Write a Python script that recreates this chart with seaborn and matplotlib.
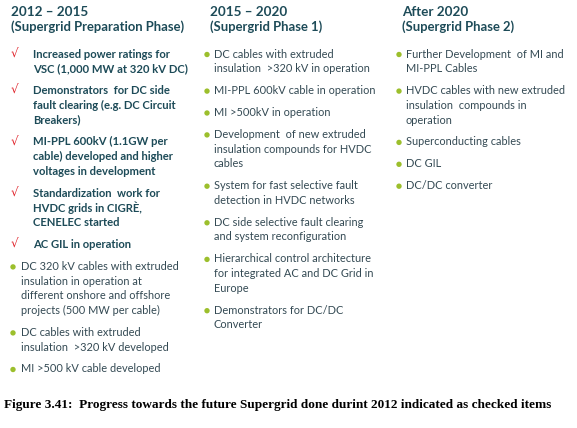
import matplotlib
matplotlib.use("Agg")
import matplotlib.pyplot as plt
import seaborn as sns
import pandas as pd

# ---------------- data ----------------
col_titles = ["2012 \u2013 2015", "2015 \u2013 2020", "After 2020"]
col_subtitles = ["(Supergrid Preparation Phase)", "(Supergrid Phase 1)", "(Supergrid Phase 2)"]

col1_items = [
    ["Increased power ratings for", "VSC (1,000 MW at 320 kV DC)"],
    ["Demonstrators  for DC side", "fault clearing (e.g. DC Circuit", "Breakers)"],
    ["MI-PPL 600kV (1.1GW per", "cable) developed and higher", "voltages in development"],
    ["Standardization  work for", "HVDC grids in CIGR\u00c8,", "CENELEC started"],
    ["AC GIL in operation"],
    ["DC 320 kV cables with extruded", "insulation in operation at", "different onshore and offshore", "projects (500 MW per cable)"],
    ["DC cables with extruded", "insulation  >320 kV developed"],
    ["MI >500 kV cable developed"],
]
col1_checked = [True, True, True, True, True, False, False, False]

col2_items = [
    ["DC cables with extruded", "insulation  >320 kV in operation"],
    ["MI-PPL 600kV cable in operation"],
    ["MI >500kV in operation"],
    ["Development  of new extruded", "insulation compounds for HVDC", "cables"],
    ["System for fast selective fault", "detection in HVDC networks"],
    ["DC side selective fault clearing", "and system reconfiguration"],
    ["Hierarchical control architecture", "for integrated AC and DC Grid in", "Europe"],
    ["Demonstrators for DC/DC", "Converter"],
]
col2_checked = [False] * len(col2_items)

col3_items = [
    ["Further Development  of MI and", "MI-PPL Cables"],
    ["HVDC cables with new extruded", "insulation  compounds in", "operation"],
    ["Superconducting cables"],
    ["DC GIL"],
    ["DC/DC converter"],
]
col3_checked = [False] * len(col3_items)

caption = "Figure 3.41:  Progress towards the future Supergrid done durint 2012 indicated as checked items"

# ---------------- style ----------------
W, H = 577, 428
DPI = 100
HEAD_C = "#1d4b58"
CHECK_TXT_C = "#1d4b58"
TEXT_C = "#344a54"
BULLET_C = "#9cbf2c"
CHECK_C = "#e0232b"
FONT = "Lato"
PX = 72.0 / DPI  # points per pixel

sns.set_theme(style="white")
plt.rcParams["font.family"] = [FONT, "DejaVu Sans"]

fig = plt.figure(figsize=(W / DPI, H / DPI), dpi=DPI)
ax = fig.add_axes([0, 0, 1, 1])

col_x = [11, 210, 402]
head_y, sub_y = 12, 27
first_y = 54
line_h = 14.7
item_gap = 7.2

cols = [(col1_items, col1_checked), (col2_items, col2_checked), (col3_items, col3_checked)]
rows = []
for ci, (items, checked) in enumerate(cols):
    x0 = col_x[ci]
    ax.text(x0, head_y, col_titles[ci], fontsize=13.5 * PX, fontweight="bold",
            color=HEAD_C, va="center", ha="left")
    ax.text(x0, sub_y, col_subtitles[ci], fontsize=13.0 * PX, fontweight="bold",
            color=HEAD_C, va="center", ha="left")
    y = first_y
    for lines, chk in zip(items, checked):
        if chk:
            ax.text(x0, y, "\u221a", fontsize=12 * PX, color=CHECK_C, va="center",
                    ha="left", family="DejaVu Sans")
            tx = x0 + 22
            for k, ln in enumerate(lines):
                ax.text(tx, y + k * line_h, ln, fontsize=11.3 * PX, fontweight="bold",
                        color=CHECK_TXT_C, va="center", ha="left")
        else:
            if ci == 0:
                bx, tx = x0 + 2, x0 + 10
            else:
                bx, tx = x0 - 3, x0 + 4
            rows.append({"x": bx, "y": y + 0.5})
            for k, ln in enumerate(lines):
                ax.text(tx, y + k * line_h, ln, fontsize=11.0 * PX,
                        color=TEXT_C, va="center", ha="left")
        y += len(lines) * line_h + item_gap

bul = pd.DataFrame(rows)
sns.scatterplot(data=bul, x="x", y="y", ax=ax, color=BULLET_C, s=15,
                edgecolor="none", legend=False)
ax.set_xlim(0, W)
ax.set_ylim(H, 0)
ax.axis("off")

ax.text(4, 405, caption, fontsize=13.3 * PX, fontweight="bold", color="black",
        family=["Liberation Serif", "DejaVu Serif"], va="center", ha="left")

fig.savefig("out.png", dpi=DPI, facecolor="white")
